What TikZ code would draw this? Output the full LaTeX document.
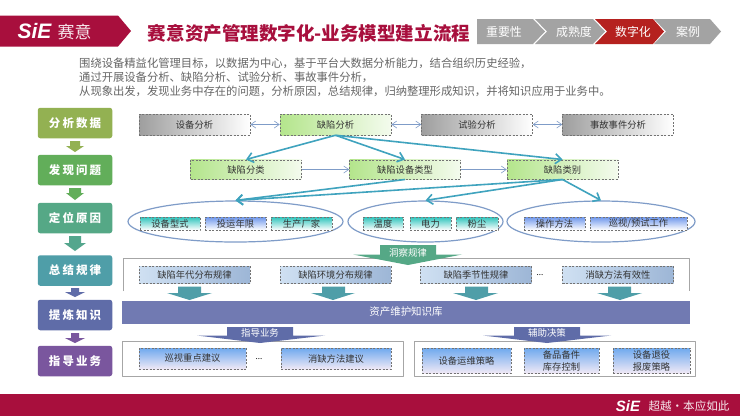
\documentclass[tikz,border=0pt]{standalone}
\usepackage{fontspec}
\setmainfont{Noto Sans CJK SC}
\newfontfamily\latinfont{Liberation Sans}
\newfontfamily\stepfont[LetterSpace=18]{Noto Sans CJK SC}
\usetikzlibrary{arrows.meta}
\usetikzlibrary{shapes.geometric}
\definecolor{sie_red}{HTML}{A80F3D}
\definecolor{tab_gray}{HTML}{A3A3A3}
\definecolor{tab_red}{HTML}{B5211F}
\definecolor{link_blue}{HTML}{7F9CC8}
\definecolor{link_teal}{HTML}{3FA3BE}
\definecolor{wedge_green}{HTML}{55A886}
\definecolor{wedge_teal}{HTML}{4F9EA8}
\definecolor{wedge_blue}{HTML}{5F6CA8}
\definecolor{band_blue}{HTML}{717AB2}
\definecolor{step_olive}{HTML}{93B152}
\definecolor{step_green}{HTML}{62AE5A}
\definecolor{step_violet}{HTML}{7A569E}
\definecolor{box_green}{HTML}{B4E58C}
\definecolor{box_teal}{HTML}{2FC4BC}
\definecolor{box_blue}{HTML}{6F97EC}
\definecolor{rule_light}{HTML}{CFE0F2}
\definecolor{rule_dark}{HTML}{9DB6D6}
\definecolor{plan_blue}{HTML}{6FA9EE}
\definecolor{plan_pale}{HTML}{F0E9F6}
\tikzset{
  step_box/.style={rounded corners=2.5bp,minimum width=74.5bp,minimum height=30.5bp,inner sep=0pt,text=white,font=\stepfont\bfseries\fontsize{11.5}{11.5}\selectfont},
  item_box/.style={draw=black!55,dash pattern=on 2bp off 1.5bp,line width=.5bp,inner sep=0pt,font=\fontsize{9.3}{12}\selectfont,text=black!80,align=center},
  gray_box/.style={item_box,left color=black!38,right color=white,minimum width=111bp,minimum height=21bp},
  green_box/.style={item_box,left color=box_green,right color=box_green!15!white,minimum width=111bp},
  tiny_teal/.style={item_box,top color=box_teal,bottom color=white,minimum height=13bp},
  tiny_blue/.style={item_box,top color=box_blue,bottom color=white,minimum height=13bp},
  rule_box/.style={item_box,left color=rule_light,right color=rule_dark,minimum width=111bp,minimum height=17bp},
  plan_box/.style={item_box,top color=plan_blue,bottom color=plan_pale},
  soft_ring/.style={draw=link_blue,line width=1.2bp,ellipse,inner sep=0pt},
  frame_line/.style={draw=black!35,line width=.9bp},
  thin_link/.style={draw=link_blue,line width=.6bp,-{Straight Barb[length=5bp,width=7bp]}},
  both_link/.style={draw=link_blue,line width=.6bp,{Straight Barb[length=5bp,width=7bp]}-{Straight Barb[length=5bp,width=7bp]}},
  thick_link/.style={draw=link_teal,line width=1.6bp,-{Straight Barb[length=6bp,width=10bp]}},
}
\begin{document}
\begin{tikzpicture}[x=1bp,y=-1bp,line join=bevel]
\useasboundingbox [fill=white] (0,0) rectangle (740,416);
%% header
\fill [sie_red] (0,15.5) -- (118,15.5) -- (131,31) -- (118,46.5) -- (0,46.5) -- cycle;
\node (logo_sie) at (34.5,31) [text=white,font=\latinfont\bfseries\itshape\fontsize{21}{21}\selectfont] {SiE};
\node (logo_name) at (74.5,32) [text=white!90!sie_red,font=\fontsize{17}{17}\selectfont] {赛意};
\node (title_text) at (309,33) [text=sie_red,font=\bfseries\fontsize{18.6}{19}\selectfont] {赛意资产管理数字化-业务模型建立流程};
\fill [tab_gray] (477,19) -- (533,19) -- (545,31.5) -- (533,44) -- (477,44) -- cycle;
\fill [tab_gray] (535,19) -- (593,19) -- (605,31.5) -- (593,44) -- (535,44) -- (547,31.5) -- cycle;
\fill [tab_red] (595,19) -- (653,19) -- (664,31.5) -- (653,44) -- (595,44) -- (607,31.5) -- cycle;
\fill [tab_gray] (654,19) -- (710,19) -- (721,31.5) -- (710,44) -- (654,44) -- (666,31.5) -- cycle;
\node (tab_0) at (504,32) [text=white,font=\fontsize{12}{12}\selectfont] {重要性};
\node (tab_1) at (574,32) [text=white,font=\fontsize{12}{12}\selectfont] {成熟度};
\node (tab_2) at (633,32) [text=white,font=\fontsize{12}{12}\selectfont] {数字化};
\node (tab_3) at (688,32) [text=white,font=\fontsize{12}{12}\selectfont] {案例};
\node (intro_0) at (79,63) [anchor=west,inner sep=0pt,text=black!60,font=\fontsize{11.35}{12}\selectfont] {围绕设备精益化管理目标，以数据为中心，基于平台大数据分析能力，结合组织历史经验，};
\node (intro_1) at (79,77) [anchor=west,inner sep=0pt,text=black!60,font=\fontsize{11.35}{12}\selectfont] {通过开展设备分析、缺陷分析、试验分析、事故事件分析，};
\node (intro_2) at (79,91) [anchor=west,inner sep=0pt,text=black!60,font=\fontsize{11.35}{12}\selectfont] {从现象出发，发现业务中存在的问题，分析原因，总结规律，归纳整理形成知识，并将知识应用于业务中。};
%% steps
\node (step_0) at (75,123) [step_box,fill=step_olive] {分析数据};
\node (step_1) at (75,170) [step_box,fill=step_green] {发现问题};
\node (step_2) at (75,218) [step_box,fill=wedge_green] {定位原因};
\node (step_3) at (75,270.5) [step_box,fill=wedge_teal] {总结规律};
\node (step_4) at (75,315) [step_box,fill=wedge_blue] {提炼知识};
\node (step_5) at (75,361) [step_box,fill=step_violet] {指导业务};
\fill [step_olive] (70,141) -- (80,141) -- (80,146) -- (84,146) -- (75,152) -- (66,146) -- (70,146) -- cycle;
\fill [step_green] (69,188) -- (81,188) -- (81,193) -- (84,193) -- (75,200) -- (66,193) -- (69,193) -- cycle;
\fill [wedge_green!80!wedge_teal] (69,236) -- (81,236) -- (81,243) -- (86,243) -- (75,251) -- (64,243) -- (69,243) -- cycle;
\fill [wedge_blue] (71,288) -- (79,288) -- (79,292) -- (85,292) -- (75,297) -- (65,292) -- (71,292) -- cycle;
\fill [step_violet] (71,333) -- (79,333) -- (79,338) -- (85,338) -- (75,343) -- (65,338) -- (71,338) -- cycle;
%% analysis rows
\node (device_analysis) at (194.5,124.5) [gray_box] {设备分析};
\node (defect_analysis) at (335.5,124.5) [green_box,minimum height=21bp] {缺陷分析};
\node (test_analysis) at (477,124.5) [gray_box] {试验分析};
\node (event_analysis) at (618,124.5) [gray_box] {事故事件分析};
\node (defect_class) at (246,169.5) [green_box,minimum height=19.5bp] {缺陷分类};
\node (defect_device) at (405,169.5) [green_box,minimum height=19.5bp] {缺陷设备类型};
\node (defect_kind) at (562.5,169.5) [green_box,minimum height=19.5bp] {缺陷类别};
\node (ring_0) at (235.5,221.5) [soft_ring,minimum width=215bp,minimum height=41bp] {};
\node (ring_1) at (425.5,221.5) [soft_ring,minimum width=155bp,minimum height=41bp] {};
\node (ring_2) at (601,221.5) [soft_ring,minimum width=188bp,minimum height=41bp] {};
\node (cause_0) at (170,223.5) [tiny_teal,minimum width=60bp] {设备型式};
\node (cause_1) at (235.5,223.5) [tiny_blue,minimum width=61bp] {投运年限};
\node (cause_2) at (301.5,223.5) [tiny_teal,minimum width=61bp] {生产厂家};
\node (cause_3) at (383,223.5) [tiny_teal,minimum width=40bp] {温度};
\node (cause_4) at (430.5,223.5) [tiny_teal,minimum width=41bp] {电力};
\node (cause_5) at (477,223.5) [tiny_teal,minimum width=42bp] {粉尘};
\node (cause_6) at (554.5,223.5) [tiny_blue,minimum width=61bp] {操作方法};
\node (cause_7) at (638.5,223.5) [tiny_blue,minimum width=97bp] {巡视/预试工作};
\draw [both_link] (device_analysis) -- (defect_analysis);
\draw [both_link] (defect_analysis) -- (test_analysis);
\draw [both_link] (test_analysis) -- (event_analysis);
\draw [thin_link] (defect_class) -- (defect_device);
\draw [thin_link] (defect_device) -- (defect_kind);
\draw [thick_link] (defect_analysis.south) -- (defect_class.north);
\draw [thick_link] (defect_analysis.south) -- (defect_device.north);
\draw [thick_link] (defect_analysis.south) -- (defect_kind.north);
\draw [thick_link] (defect_device.south) -- (ring_0.north);
\draw [thick_link] (defect_kind.south) -- (ring_0.north);
\draw [thick_link] (defect_kind.south) -- (ring_1.north);
\draw [thick_link] (defect_kind.south) -- (ring_2.north);
%% rules and knowledge
\draw [frame_line] (123,291) -- (123,258.5) -- (689.5,258.5) -- (689.5,291);
\node (rule_0) at (194.5,274.5) [rule_box] {缺陷年代分布规律};
\node (rule_1) at (335.5,274.5) [rule_box] {缺陷环境分布规律};
\node (rule_2) at (476,274.5) [rule_box] {缺陷季节性规律};
\node (rule_dots) at (540,275) [font=\fontsize{8}{8}\selectfont,inner sep=0pt] {...};
\node (rule_3) at (618,274.5) [rule_box] {消缺方法有效性};
\fill [wedge_green] (380,245) -- (436,245) -- (436,254.5) -- (462,254.5) -- (408,265) -- (353,254.5) -- (380,254.5) -- cycle;
\node (insight_label) at (408,252.5) [text=white,font=\fontsize{9.5}{9.5}\selectfont,inner sep=0pt] {洞察规律};
\fill [wedge_teal] (178,286.5) -- (201,286.5) -- (201,293) -- (212,293) -- (189.5,300) -- (167,293) -- (178,293) -- cycle;
\fill [wedge_teal] (322,286.5) -- (345,286.5) -- (345,293) -- (355,293) -- (333,300) -- (311,293) -- (322,293) -- cycle;
\fill [wedge_teal] (465,286.5) -- (488,286.5) -- (488,293) -- (498,293) -- (476,300) -- (453,293) -- (465,293) -- cycle;
\fill [wedge_teal] (608,286.5) -- (631,286.5) -- (631,293) -- (642,293) -- (620,300) -- (597,293) -- (608,293) -- cycle;
\node (knowledge_band) at (406,312) [fill=band_blue,minimum width=568bp,minimum height=23bp,inner sep=0pt,text=white,font=\fontsize{10.5}{10.5}\selectfont] {资产维护知识库};
%% bottom frames
\node (guide_frame) at (262.5,358.5) [draw=black!35,line width=.9bp,minimum width=281bp,minimum height=35bp,inner sep=0pt] {};
\node (decide_frame) at (554.5,358.5) [draw=black!35,line width=.9bp,minimum width=281bp,minimum height=35bp,inner sep=0pt] {};
\fill [wedge_blue] (227,327) -- (293,327) -- (293,335.5) -- (325,335.5) -- (260,343) -- (197,335.5) -- (227,335.5) -- cycle;
\node (guide_label) at (260,332.5) [text=white,font=\fontsize{9.5}{9.5}\selectfont,inner sep=0pt] {指导业务};
\fill [wedge_blue] (514,327) -- (580,327) -- (580,335.5) -- (611,335.5) -- (547,343) -- (483,335.5) -- (514,335.5) -- cycle;
\node (decide_label) at (547,333) [text=white,font=\fontsize{9.5}{9.5}\selectfont,inner sep=0pt] {辅助决策};
\node (plan_0) at (192.5,358.5) [plan_box,minimum width=107bp,minimum height=21bp] {巡视重点建议};
\node (plan_dots) at (259,359) [font=\fontsize{8}{8}\selectfont,inner sep=0pt] {...};
\node (plan_1) at (336,358.5) [plan_box,minimum width=110bp,minimum height=21bp] {消缺方法建议};
\node (plan_2) at (466.5,360.5) [plan_box,minimum width=89bp,minimum height=25bp] {设备运维策略};
\node (plan_3) at (561.5,360.5) [plan_box,minimum width=75bp,minimum height=25bp] {备品备件\\库存控制};
\node (plan_4) at (651.5,360.5) [plan_box,minimum width=77bp,minimum height=25bp] {设备退役\\报废策略};
%% footer
\fill [sie_red] (0,394) rectangle (740,416);
\node (foot_sie) at (628,406) [text=white,font=\latinfont\bfseries\itshape\fontsize{15}{15}\selectfont] {SiE};
\node (foot_text) at (689,406) [text=white!90!sie_red,font=\fontsize{11.6}{12}\selectfont] {超越·本应如此};
%
\end{tikzpicture}
\end{document}
